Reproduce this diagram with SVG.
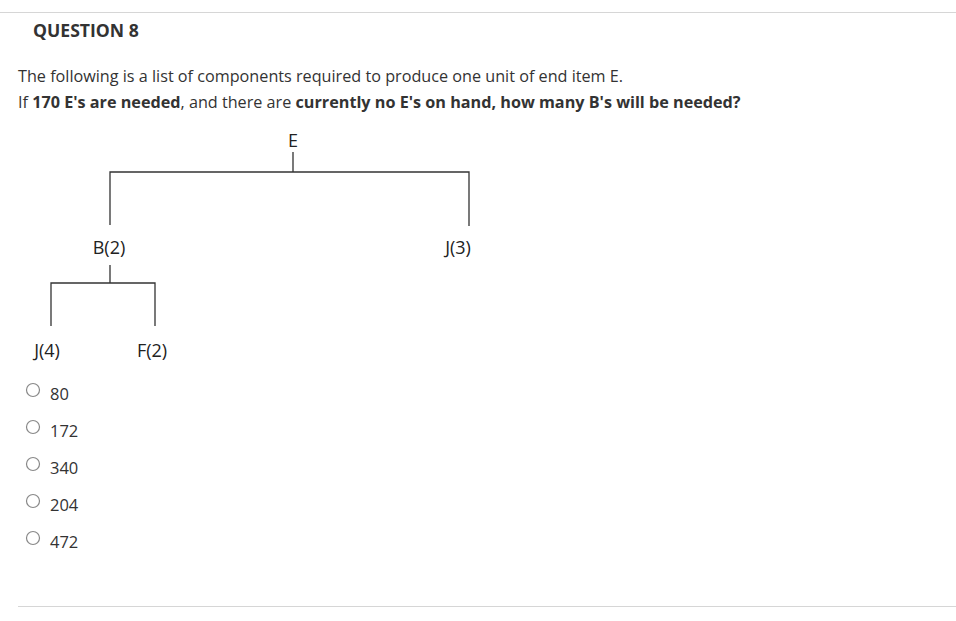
<svg xmlns="http://www.w3.org/2000/svg" width="956" height="621" viewBox="0 0 956 621">
<style>
.t{font-family:"Open Sans","Liberation Sans",sans-serif;fill:#333}
.b{font-weight:bold}
.n{font-family:"Open Sans","Liberation Sans",sans-serif;font-size:18px;fill:#222;text-anchor:middle}
.c{stroke:#333;stroke-width:1.3;fill:none}
.r{fill:#fff;stroke:#888;stroke-width:1.2}
.o{font-family:"Open Sans","Liberation Sans",sans-serif;font-size:16.5px;fill:#333}
</style>
<rect width="956" height="621" fill="#fff"/>
<line x1="0" y1="12.5" x2="956" y2="12.5" stroke="#d6d6d6" stroke-width="1"/>
<line x1="18" y1="606.5" x2="956" y2="606.5" stroke="#d6d6d6" stroke-width="1"/>
<text class="t b" x="33" y="37" font-size="17.6">QUESTION 8</text>
<text class="t" x="18" y="82" font-size="16.2">The following is a list of components required to produce one unit of end item E.</text>
<text class="t" x="18" y="108" font-size="16.2">If <tspan class="b">170 E's are needed</tspan>, and there are <tspan class="b">currently no E's on hand, how many B's will be needed?</tspan></text>
<g id="connectors">
<path class="c" d="M293,152 V172 M110,225 V172 H469 V226"/>
<path class="c" d="M110,265 V283 M51,326 V283 H155 V326"/>
</g>
<g id="E"><text class="n" x="293" y="147">E</text></g>
<g id="B2"><text class="n" x="109" y="254">B(2)</text></g>
<g id="J3"><text class="n" x="458" y="254">J(3)</text></g>
<g id="J4"><text class="n" x="47" y="357">J(4)</text></g>
<g id="F2"><text class="n" x="152" y="357">F(2)</text></g>
<g id="options">
<circle class="r" cx="33" cy="390" r="6.5"/><text class="o" x="50" y="400">80</text>
<circle class="r" cx="33" cy="427" r="6.5"/><text class="o" x="50" y="437">172</text>
<circle class="r" cx="33" cy="464" r="6.5"/><text class="o" x="50" y="474">340</text>
<circle class="r" cx="33" cy="501" r="6.5"/><text class="o" x="50" y="511">204</text>
<circle class="r" cx="33" cy="538" r="6.5"/><text class="o" x="50" y="548">472</text>
</g>
</svg>
